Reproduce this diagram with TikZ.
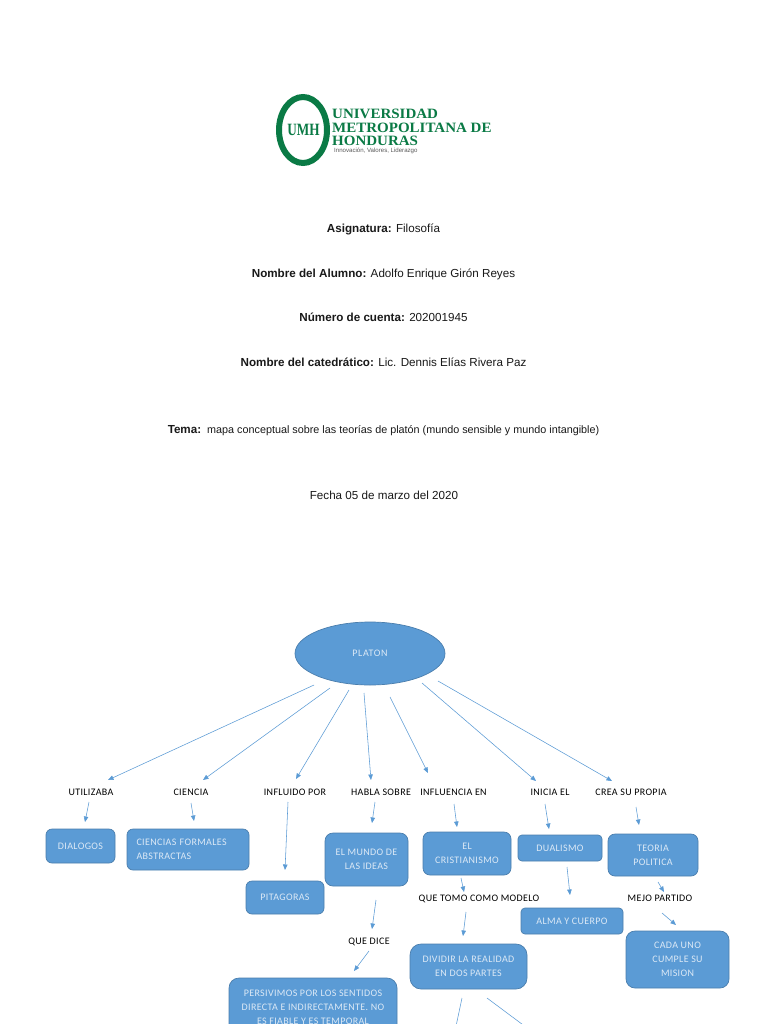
\documentclass[tikz,border=0pt]{standalone}
\usepackage{fontspec}
\setmainfont{Liberation Sans}
\newfontfamily\carl[LetterSpace=3.5]{Carlito}
\newfontfamily\carlw[LetterSpace=6]{Carlito}
\newfontfamily\serifb{Liberation Serif}
\usetikzlibrary{arrows.meta,shapes.geometric}
\definecolor{boxblue}{HTML}{5B9BD5}
\definecolor{boxedge}{HTML}{4A7EAD}
\definecolor{boxtext}{HTML}{DCE9F6}
\definecolor{umh}{HTML}{0A7A45}
\tikzset{
  cbox/.style={draw=boxedge,fill=boxblue,line width=0.7pt,rounded corners=6pt,inner sep=0pt,
     text=boxtext,align=center,font=\carl\fontsize{10}{14}\selectfont},
  lbl/.style={inner sep=0pt,text=black,text height=6.2pt,text depth=0pt,font=\carl\fontsize{10}{12}\selectfont},
  arr/.style={draw=boxblue,line width=0.55pt,-{Triangle[length=5.5pt,width=4.5pt]}},
  head/.style={inner sep=0pt,text=black!90,text height=8.6pt,text depth=0pt,font=\fontsize{11.65}{14}\selectfont},
  uni/.style={inner sep=0pt,anchor=west,text=umh,font=\serifb\bfseries\fontsize{15}{16}\selectfont},
}
\begin{document}
\begin{tikzpicture}[x=1pt,y=-1pt]
\useasboundingbox (0,0) rectangle (768,1024);
\clip (0,0) rectangle (768,1024);
\fill[white] (0,0) rectangle (768,1024);

% logo
\node[ellipse,draw=umh,line width=6pt,minimum width=48pt,minimum height=66pt,inner sep=0pt] (ring) at (303,130) {};
\node[inner sep=0pt,text=umh,font=\serifb\bfseries\fontsize{15}{16}\selectfont] (umhtxt) at (303.5,130) {\scalebox{0.88}[1.15]{UMH}};
\node[uni] (u1) at (332,114) {\scalebox{1}[0.95]{UNIVERSIDAD}};
\node[uni] (u2) at (332,127.5) {\scalebox{1}[0.95]{METROPOLITANA DE}};
\node[uni] (u3) at (332,141) {\scalebox{1}[0.95]{HONDURAS}};
\node[inner sep=0pt,anchor=west,text=black!65,font=\fontsize{6.1}{7}\selectfont] (tag) at (334,151) {Innovación, Valores, Liderazgo};

% header
\node[head] (h1) at (383.5,228.5) {\textbf{Asignatura:} Filosofía};
\node[head] (h2) at (383.5,273) {\textbf{Nombre del Alumno:} Adolfo Enrique Girón Reyes};
\node[head] (h3) at (383.5,317.5) {\textbf{Número de cuenta:} 202001945};
\node[head] (h4) at (383.5,362) {\textbf{Nombre del catedrático:} Lic. Dennis Elías Rivera Paz};
\node[head] (h5) at (383.5,429) {\textbf{Tema:}\hspace{6pt}{\fontsize{10.8}{13}\selectfont mapa conceptual sobre las teorías de platón (mundo sensible y mundo intangible)}};
\node[head] (h6) at (384,495.5) {Fecha 05 de marzo del 2020};

% root
\node[ellipse,draw=boxedge,fill=boxblue,line width=0.7pt,minimum width=150pt,minimum height=63pt,inner sep=0pt,
  text=boxtext,font=\carlw\fontsize{10}{12}\selectfont] (platon) at (370,653.5) {PLATON};

% labels
\node[lbl] (utiliz) at (91,792) {UTILIZABA};
\node[lbl] (cienc) at (191,792) {CIENCIA};
\node[lbl] (influ) at (295,792) {INFLUIDO POR};
\node[lbl] (habla) at (381,792) {HABLA SOBRE};
\node[lbl] (infen) at (453.5,792) {INFLUENCIA EN};
\node[lbl] (inicia) at (550,792) {INICIA EL};
\node[lbl] (crea) at (631,792) {CREA SU PROPIA};
\node[lbl] (tomo) at (479,898) {QUE TOMO COMO MODELO};
\node[lbl] (mejo) at (660,898) {MEJO PARTIDO};
\node[lbl] (dice) at (369,941) {QUE DICE};

% boxes
\node[cbox,minimum width=69pt,minimum height=34pt] (dial) at (80.5,846) {DIALOGOS};
\node[cbox,minimum width=122pt,minimum height=41pt,text width=103pt,align=left] (cf) at (188,849.5) {CIENCIAS FORMALES\\ABSTRACTAS};
\node[cbox,minimum width=78pt,minimum height=33pt] (pit) at (285,897.5) {PITAGORAS};
\node[cbox,minimum width=83pt,minimum height=53pt,rounded corners=8pt] (mundo) at (366.5,859.5) {EL MUNDO DE\\LAS IDEAS};
\node[cbox,minimum width=88pt,minimum height=43pt,rounded corners=7pt] (crist) at (467,853.5) {EL\\CRISTIANISMO};
\node[cbox,minimum width=84pt,minimum height=26pt,rounded corners=4pt] (dual) at (560,848) {DUALISMO};
\node[cbox,minimum width=90pt,minimum height=42pt,rounded corners=7pt] (teo) at (653,855) {TEORIA\\POLITICA};
\node[cbox,minimum width=102pt,minimum height=26pt,rounded corners=4pt] (alma) at (572,921) {ALMA Y CUERPO};
\node[cbox,minimum width=103pt,minimum height=57pt,rounded corners=9pt] (cada) at (677.5,959.5) {CADA UNO\\CUMPLE SU\\MISION};
\node[cbox,minimum width=117pt,minimum height=45pt,rounded corners=11pt] (divid) at (468.5,966.5) {DIVIDIR LA REALIDAD\\EN DOS PARTES};
\node[cbox,minimum width=168pt,minimum height=58pt,rounded corners=10pt] (pers) at (313,1007) {PERSIVIMOS POR LOS SENTIDOS\\DIRECTA E INDIRECTAMENTE. NO\\ES FIABLE Y ES TEMPORAL};
\coordinate (end1) at (452,1045);
\coordinate (end2) at (550,1045);

% connectors
\newcommand{\conn}[6]{\draw[arr] ([shift={(#2,#3)}]#1.center) -- ([shift={(#5,#6)}]#4.center);}
\conn{platon}{-56}{31.5}{utiliz}{17}{-12}
\conn{platon}{-40}{34.5}{cienc}{12}{-12}
\conn{platon}{-21}{36.5}{influ}{1}{-13}
\conn{platon}{-6}{39.5}{habla}{-10}{-12}
\conn{platon}{20}{43.5}{infen}{-25.5}{-19}
\conn{platon}{52}{29.5}{inicia}{-14}{-11}
\conn{platon}{68}{27.5}{crea}{-19}{-11}
\conn{utiliz}{-2}{10}{dial}{4.5}{-24}
\conn{cienc}{0}{11}{cf}{6}{-28.5}
\conn{influ}{-7}{10}{pit}{0}{-27.5}
\conn{habla}{-6}{10}{mundo}{5.5}{-36.5}
\conn{mundo}{9.5}{40.5}{dice}{3}{-12}
\conn{dice}{0}{10}{pers}{41}{-36}
\conn{infen}{0.5}{12}{crist}{-10}{-26.5}
\conn{inicia}{-5}{12}{dual}{-11}{-19}
\conn{crea}{5}{15}{teo}{-14}{-30}
\conn{crist}{-6}{24.5}{tomo}{-15}{-6}
\conn{tomo}{-13}{14}{divid}{-5.5}{-30.5}
\conn{dual}{7}{19}{alma}{-2}{-26}
\conn{teo}{5}{27}{mejo}{4}{-6}
\conn{mejo}{2}{15}{cada}{-1.5}{-34.5}
\draw[arr] ([shift={(-6.5,31.5)}]divid.center) -- (end1);
\draw[arr] ([shift={(18.5,31.5)}]divid.center) -- (end2);
\end{tikzpicture}
\end{document}
